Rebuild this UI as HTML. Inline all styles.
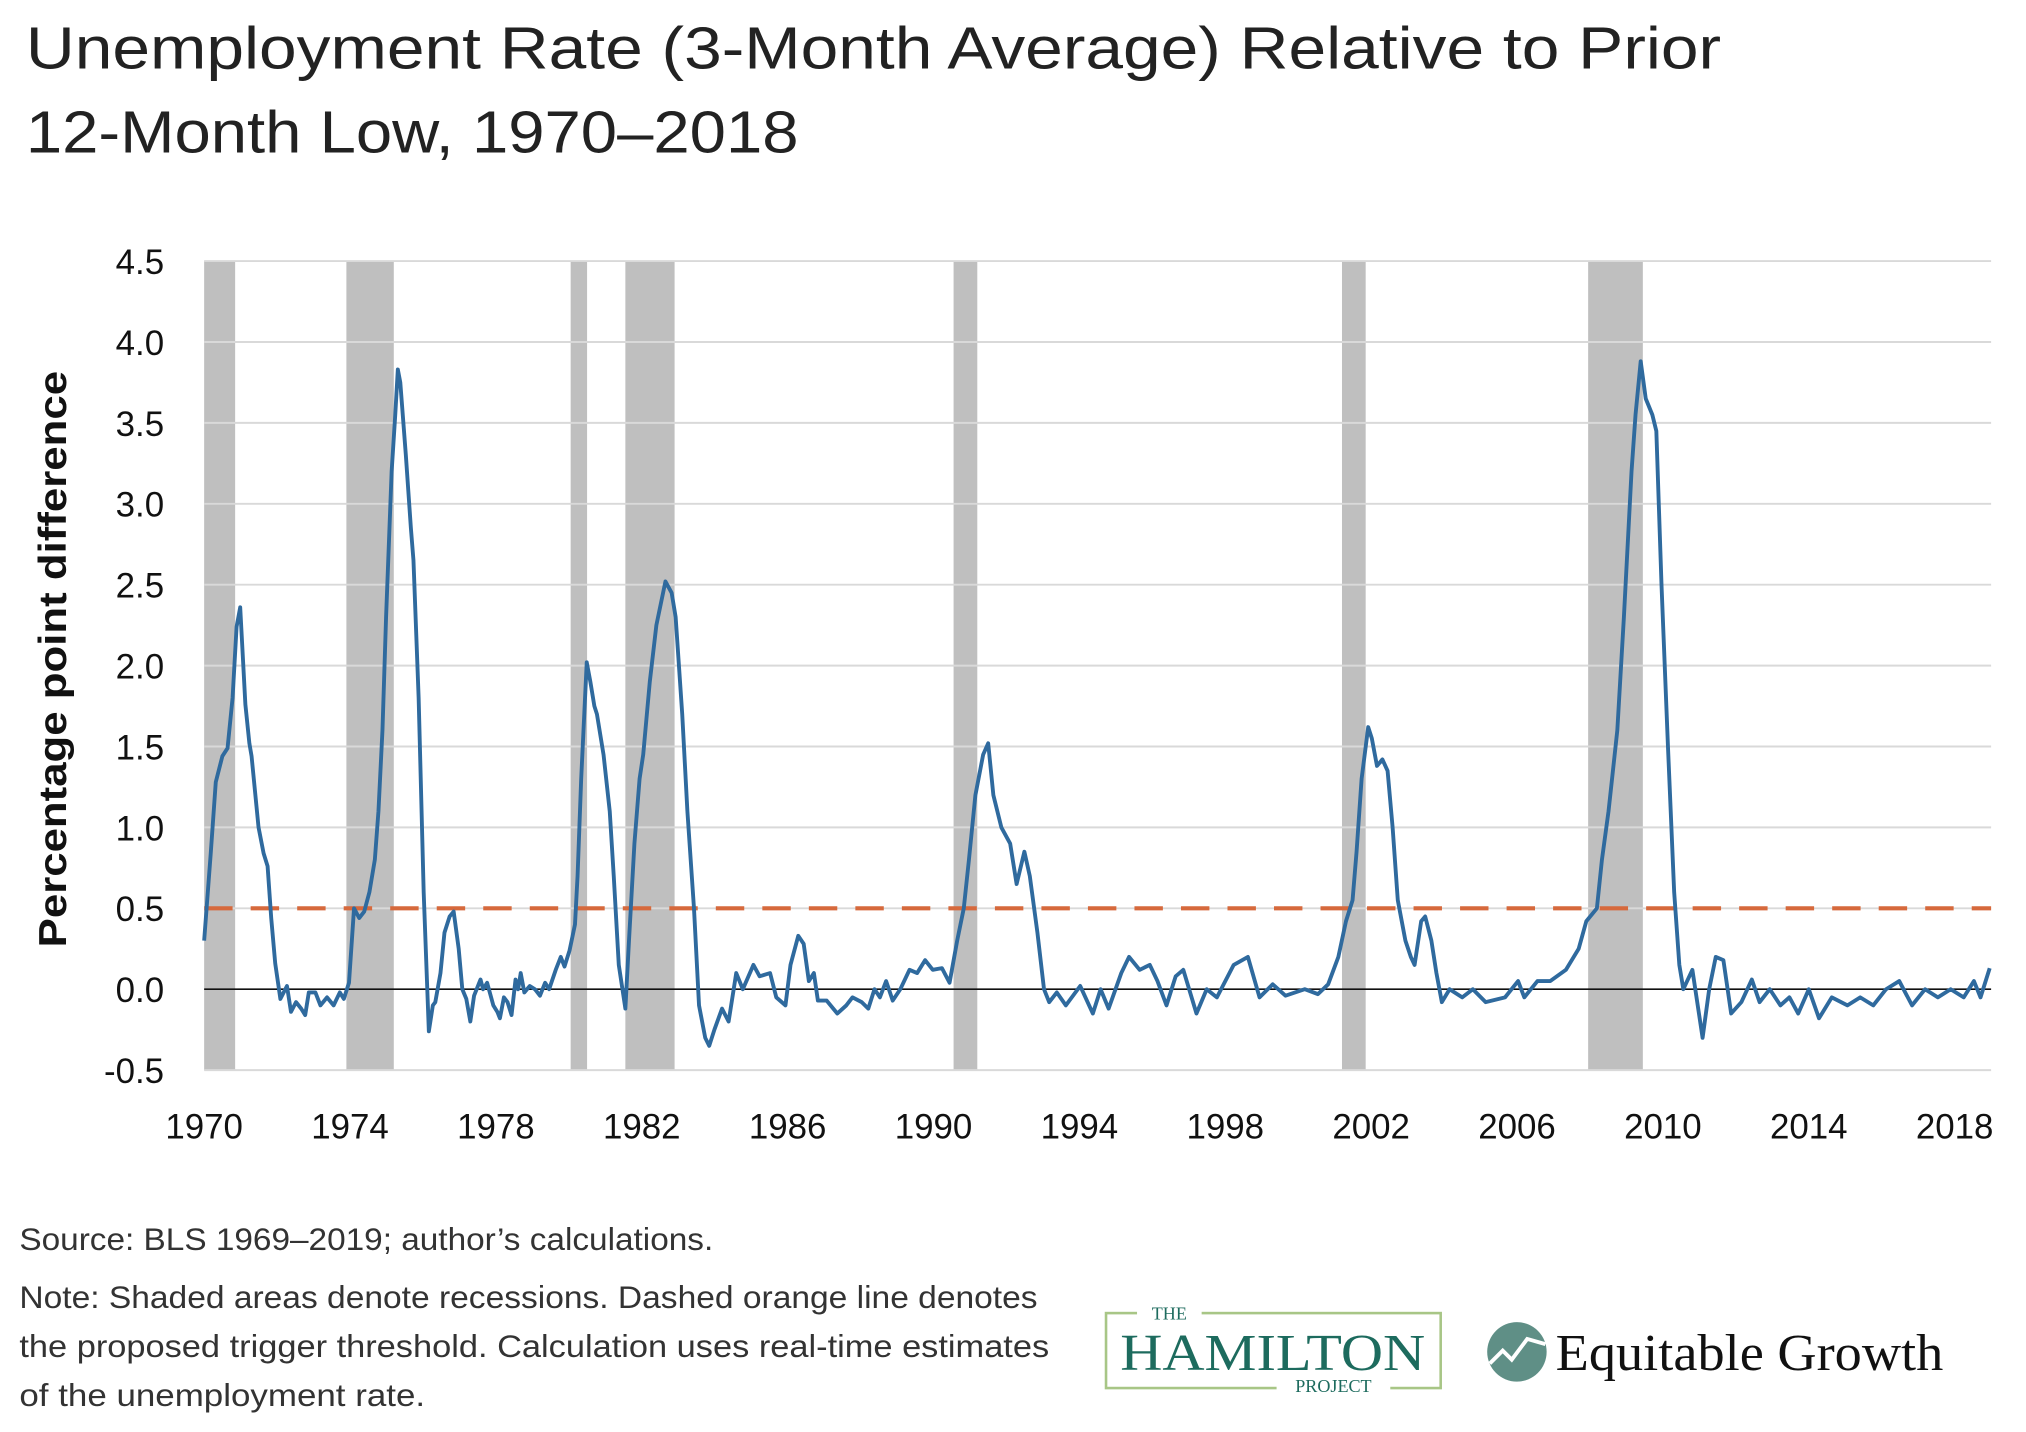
<!DOCTYPE html>
<html><head><meta charset="utf-8"><style>
html,body{margin:0;padding:0;background:#fff;}
svg{display:block;font-family:"Liberation Sans",sans-serif;}
</style></head><body>
<svg id="chart" width="2026" height="1432" viewBox="0 0 1568 1108" preserveAspectRatio="none" xmlns="http://www.w3.org/2000/svg">
<text x="20" y="53" font-size="46" fill="#222" textLength="1312" lengthAdjust="spacingAndGlyphs">Unemployment Rate (3-Month Average) Relative to Prior</text>
<text x="20" y="118" font-size="46" fill="#222" textLength="598" lengthAdjust="spacingAndGlyphs">12-Month Low, 1970–2018</text>
<g id="plot"></g>
<text transform="translate(51,510) rotate(-90)" text-anchor="middle" font-size="30" font-weight="bold" fill="#111" textLength="446" lengthAdjust="spacingAndGlyphs">Percentage point difference</text>
<text x="15" y="967" font-size="24" fill="#333" textLength="537" lengthAdjust="spacingAndGlyphs">Source: BLS 1969–2019; author’s calculations.</text>
<text x="15" y="1012" font-size="24" fill="#333" textLength="788" lengthAdjust="spacingAndGlyphs">Note: Shaded areas denote recessions. Dashed orange line denotes</text>
<text x="15" y="1050" font-size="24" fill="#333" textLength="797" lengthAdjust="spacingAndGlyphs">the proposed trigger threshold. Calculation uses real-time estimates</text>
<text x="15" y="1088" font-size="24" fill="#333" textLength="314" lengthAdjust="spacingAndGlyphs">of the unemployment rate.</text>
<g>
<rect x="856" y="1016" width="259" height="58" fill="none" stroke="#a8c686" stroke-width="2"/>
<rect x="880" y="1010" width="50" height="12" fill="#fff"/>
<text x="905" y="1021" font-family="Liberation Serif,serif" font-size="14" fill="#1d6b5e" text-anchor="middle">THE</text>
<text x="985" y="1060" font-family="Liberation Serif,serif" font-size="40" fill="#1d6b5e" text-anchor="middle" textLength="236" lengthAdjust="spacingAndGlyphs">HAMILTON</text>
<rect x="988" y="1066" width="88" height="14" fill="#fff"/>
<text x="1032" y="1077" font-family="Liberation Serif,serif" font-size="14" fill="#1d6b5e" text-anchor="middle">PROJECT</text>
</g>
<g>
<circle cx="1174" cy="1046" r="23" fill="#5f8f86"/>
<polyline points="1153,1055 1163,1045 1170,1052 1182,1036 1196,1040" fill="none" stroke="#fff" stroke-width="3"/>
<text x="1204" y="1060" font-family="Liberation Serif,serif" font-size="40" fill="#111" textLength="300" lengthAdjust="spacingAndGlyphs">Equitable Growth</text>
</g>
</svg>
<script>
const years = [1970.00,1970.18,1970.32,1970.50,1970.64,1970.78,1970.89,1970.99,1971.13,1971.24,1971.30,1971.49,1971.63,1971.74,1971.84,1971.95,1972.09,1972.27,1972.38,1972.52,1972.66,1972.77,1972.87,1973.05,1973.19,1973.37,1973.55,1973.72,1973.83,1973.97,
1974.11,1974.25,1974.39,1974.53,1974.68,1974.78,1974.89,1974.99,1975.14,1975.24,1975.31,1975.38,1975.53,1975.67,1975.74,1975.88,1976.02,1976.16,1976.27,1976.34,1976.48,1976.59,1976.73,1976.84,1976.98,1977.08,1977.19,1977.30,1977.40,1977.58,1977.65,1977.76,1977.93,1978.04,1978.11,1978.22,1978.32,1978.43,1978.54,1978.61,1978.68,1978.78,1978.93,1979.07,1979.21,1979.35,1979.46,1979.64,1979.78,1979.88,
1980.02,1980.17,1980.24,1980.34,1980.49,1980.59,1980.70,1980.77,1980.95,1981.12,1981.23,1981.37,1981.55,1981.65,1981.80,1981.94,1982.04,1982.22,1982.40,1982.65,1982.82,1982.93,1983.11,1983.25,1983.43,1983.57,1983.74,1983.85,1983.99,1984.20,1984.38,1984.59,1984.77,1985.06,1985.23,1985.52,1985.69,1985.94,1986.08,1986.29,1986.44,1986.58,1986.72,1986.83,1987.07,1987.36,1987.61,1987.78,1988.03,1988.21,1988.38,1988.53,1988.70,1988.88,1989.09,1989.34,1989.55,1989.77,1989.98,
1990.23,1990.44,1990.65,1990.83,1990.97,1991.15,1991.36,1991.50,1991.64,1991.86,1992.10,1992.28,1992.49,1992.64,1992.85,1993.03,1993.17,1993.38,1993.63,1994.02,1994.37,1994.58,1994.80,1995.15,1995.36,1995.65,1995.93,1996.14,1996.39,1996.64,1996.85,1997.21,1997.49,1997.77,1998.23,1998.62,1998.94,1999.30,1999.65,
2000.18,2000.54,2000.82,2001.10,2001.31,2001.49,2001.60,2001.74,2001.92,2002.02,2002.16,2002.31,2002.45,2002.59,2002.73,2002.94,2003.09,2003.19,2003.37,2003.48,2003.65,2003.79,2003.94,2004.15,2004.50,2004.79,2005.14,2005.67,2006.03,2006.20,2006.56,2006.91,2007.34,2007.69,2007.90,2008.19,2008.33,2008.51,2008.75,2008.93,2009.14,2009.25,2009.39,2009.53,2009.71,2009.82,2009.96,
2010.14,2010.31,2010.45,2010.56,2010.81,2011.09,2011.27,2011.45,2011.66,2011.87,2012.15,2012.44,2012.65,2012.93,2013.22,2013.47,2013.71,2014.00,2014.28,2014.63,2015.06,2015.41,2015.77,2016.12,2016.48,2016.83,2017.19,2017.54,2017.89,2018.25,2018.53,2018.71,2018.96];
const values = [0.30,0.84,1.28,1.44,1.49,1.80,2.24,2.36,1.76,1.52,1.44,1.00,0.84,0.76,0.44,0.16,-0.06,0.02,-0.14,-0.08,-0.12,-0.16,-0.02,-0.02,-0.10,-0.05,-0.10,-0.02,-0.06,0.04,
0.50,0.44,0.48,0.60,0.80,1.10,1.60,2.30,3.20,3.55,3.83,3.75,3.30,2.85,2.65,1.80,0.60,-0.26,-0.10,-0.08,0.10,0.35,0.45,0.48,0.25,0.00,-0.06,-0.20,-0.04,0.06,0.00,0.04,-0.10,-0.14,-0.18,-0.05,-0.08,-0.16,0.06,0.00,0.10,-0.02,0.02,0.00,-0.04,0.04,0.00,0.12,0.20,0.14,
0.24,0.40,0.70,1.30,2.02,1.90,1.75,1.70,1.45,1.10,0.70,0.15,-0.12,0.30,0.90,1.30,1.45,1.90,2.25,2.52,2.45,2.30,1.70,1.10,0.50,-0.10,-0.30,-0.35,-0.25,-0.12,-0.20,0.10,0.00,0.15,0.08,0.10,-0.05,-0.10,0.15,0.33,0.28,0.05,0.10,-0.07,-0.07,-0.15,-0.10,-0.05,-0.08,-0.12,0.00,-0.05,0.05,-0.07,0.00,0.12,0.10,0.18,0.12,
0.13,0.04,0.30,0.50,0.80,1.20,1.45,1.52,1.20,1.00,0.90,0.65,0.85,0.70,0.35,0.00,-0.08,-0.02,-0.10,0.02,-0.15,0.00,-0.12,0.10,0.20,0.12,0.15,0.05,-0.10,0.08,0.12,-0.15,0.00,-0.05,0.15,0.20,-0.05,0.03,-0.04,
0.00,-0.03,0.03,0.20,0.42,0.55,0.85,1.30,1.62,1.55,1.38,1.42,1.35,1.00,0.55,0.30,0.20,0.15,0.42,0.45,0.30,0.10,-0.08,0.00,-0.05,0.00,-0.08,-0.05,0.05,-0.05,0.05,0.05,0.12,0.25,0.42,0.50,0.80,1.10,1.60,2.30,3.20,3.55,3.88,3.65,3.55,3.45,2.50,
1.50,0.60,0.15,0.00,0.12,-0.30,0.00,0.20,0.18,-0.15,-0.08,0.06,-0.08,0.00,-0.10,-0.05,-0.15,0.00,-0.18,-0.05,-0.10,-0.05,-0.10,0.00,0.05,-0.10,0.00,-0.05,0.00,-0.05,0.05,-0.05,0.13];
const recessionStarts = [1969.95,1973.9,1980.05,1981.55,1990.55,2001.2,2007.95];
const recessionEnds = [1970.85,1975.2,1980.5,1982.9,1991.2,2001.85,2009.45];
const yTicks = [-0.5,0,0.5,1,1.5,2,2.5,3,3.5,4,4.5];
const xTicks = [1970,1974,1978,1982,1986,1990,1994,1998,2002,2006,2010,2014,2018];
const threshold = 0.5;

const X0=158, X1=1541, Y0=828, Y1=202;
const xMin=1970, xMax=2019, yMin=-0.5, yMax=4.5;
const xs = v => X0 + (v-xMin)/(xMax-xMin)*(X1-X0);
const ys = v => Y0 - (v-yMin)/(yMax-yMin)*(Y0-Y1);
const NS="http://www.w3.org/2000/svg";
const g=document.getElementById('plot');
function mk(tag, attrs){const e=document.createElementNS(NS,tag);for(const k in attrs)e.setAttribute(k,attrs[k]);g.appendChild(e);return e;}

recessionStarts.forEach((s,i)=>{
  const x0=Math.max(xs(s),X0), x1=xs(recessionEnds[i]);
  const r=mk('rect',{x:x0,y:Y1,width:x1-x0,height:Y0-Y1,fill:'#bfbfbf'});
  
  
});
yTicks.forEach(t=>{
  if(t!==0){
    const l=mk('line',{x1:X0,x2:X1,y1:ys(t),y2:ys(t),stroke:'#d9d9d9','stroke-width':1.5});
    
    
  }
  const tx=mk('text',{x:127,y:ys(t)+10,'text-anchor':'end','font-size':27,fill:'#111'});
  tx.textContent=t.toFixed(1);
  
  
});
xTicks.forEach(t=>{
  const tx=mk('text',{x:xs(t),y:881,'text-anchor':'middle','font-size':27,fill:'#111'});
  tx.textContent=String(t);
  
  
});
const z=mk('line',{x1:X0,x2:X1,y1:ys(0),y2:ys(0),stroke:'#111','stroke-width':1.3});


const th=mk('line',{x1:X0,x2:X1,y1:ys(threshold),y2:ys(threshold),stroke:'#d6693c','stroke-width':3.2,'stroke-dasharray':'22 14'});


const pts=years.map((y,i)=>xs(y).toFixed(1)+','+ys(values[i]).toFixed(1)).join(' ');
const ln=mk('polyline',{points:pts,fill:'none',stroke:'#2f6a9e','stroke-width':3,'stroke-linejoin':'round'});


</script>
</body></html>
